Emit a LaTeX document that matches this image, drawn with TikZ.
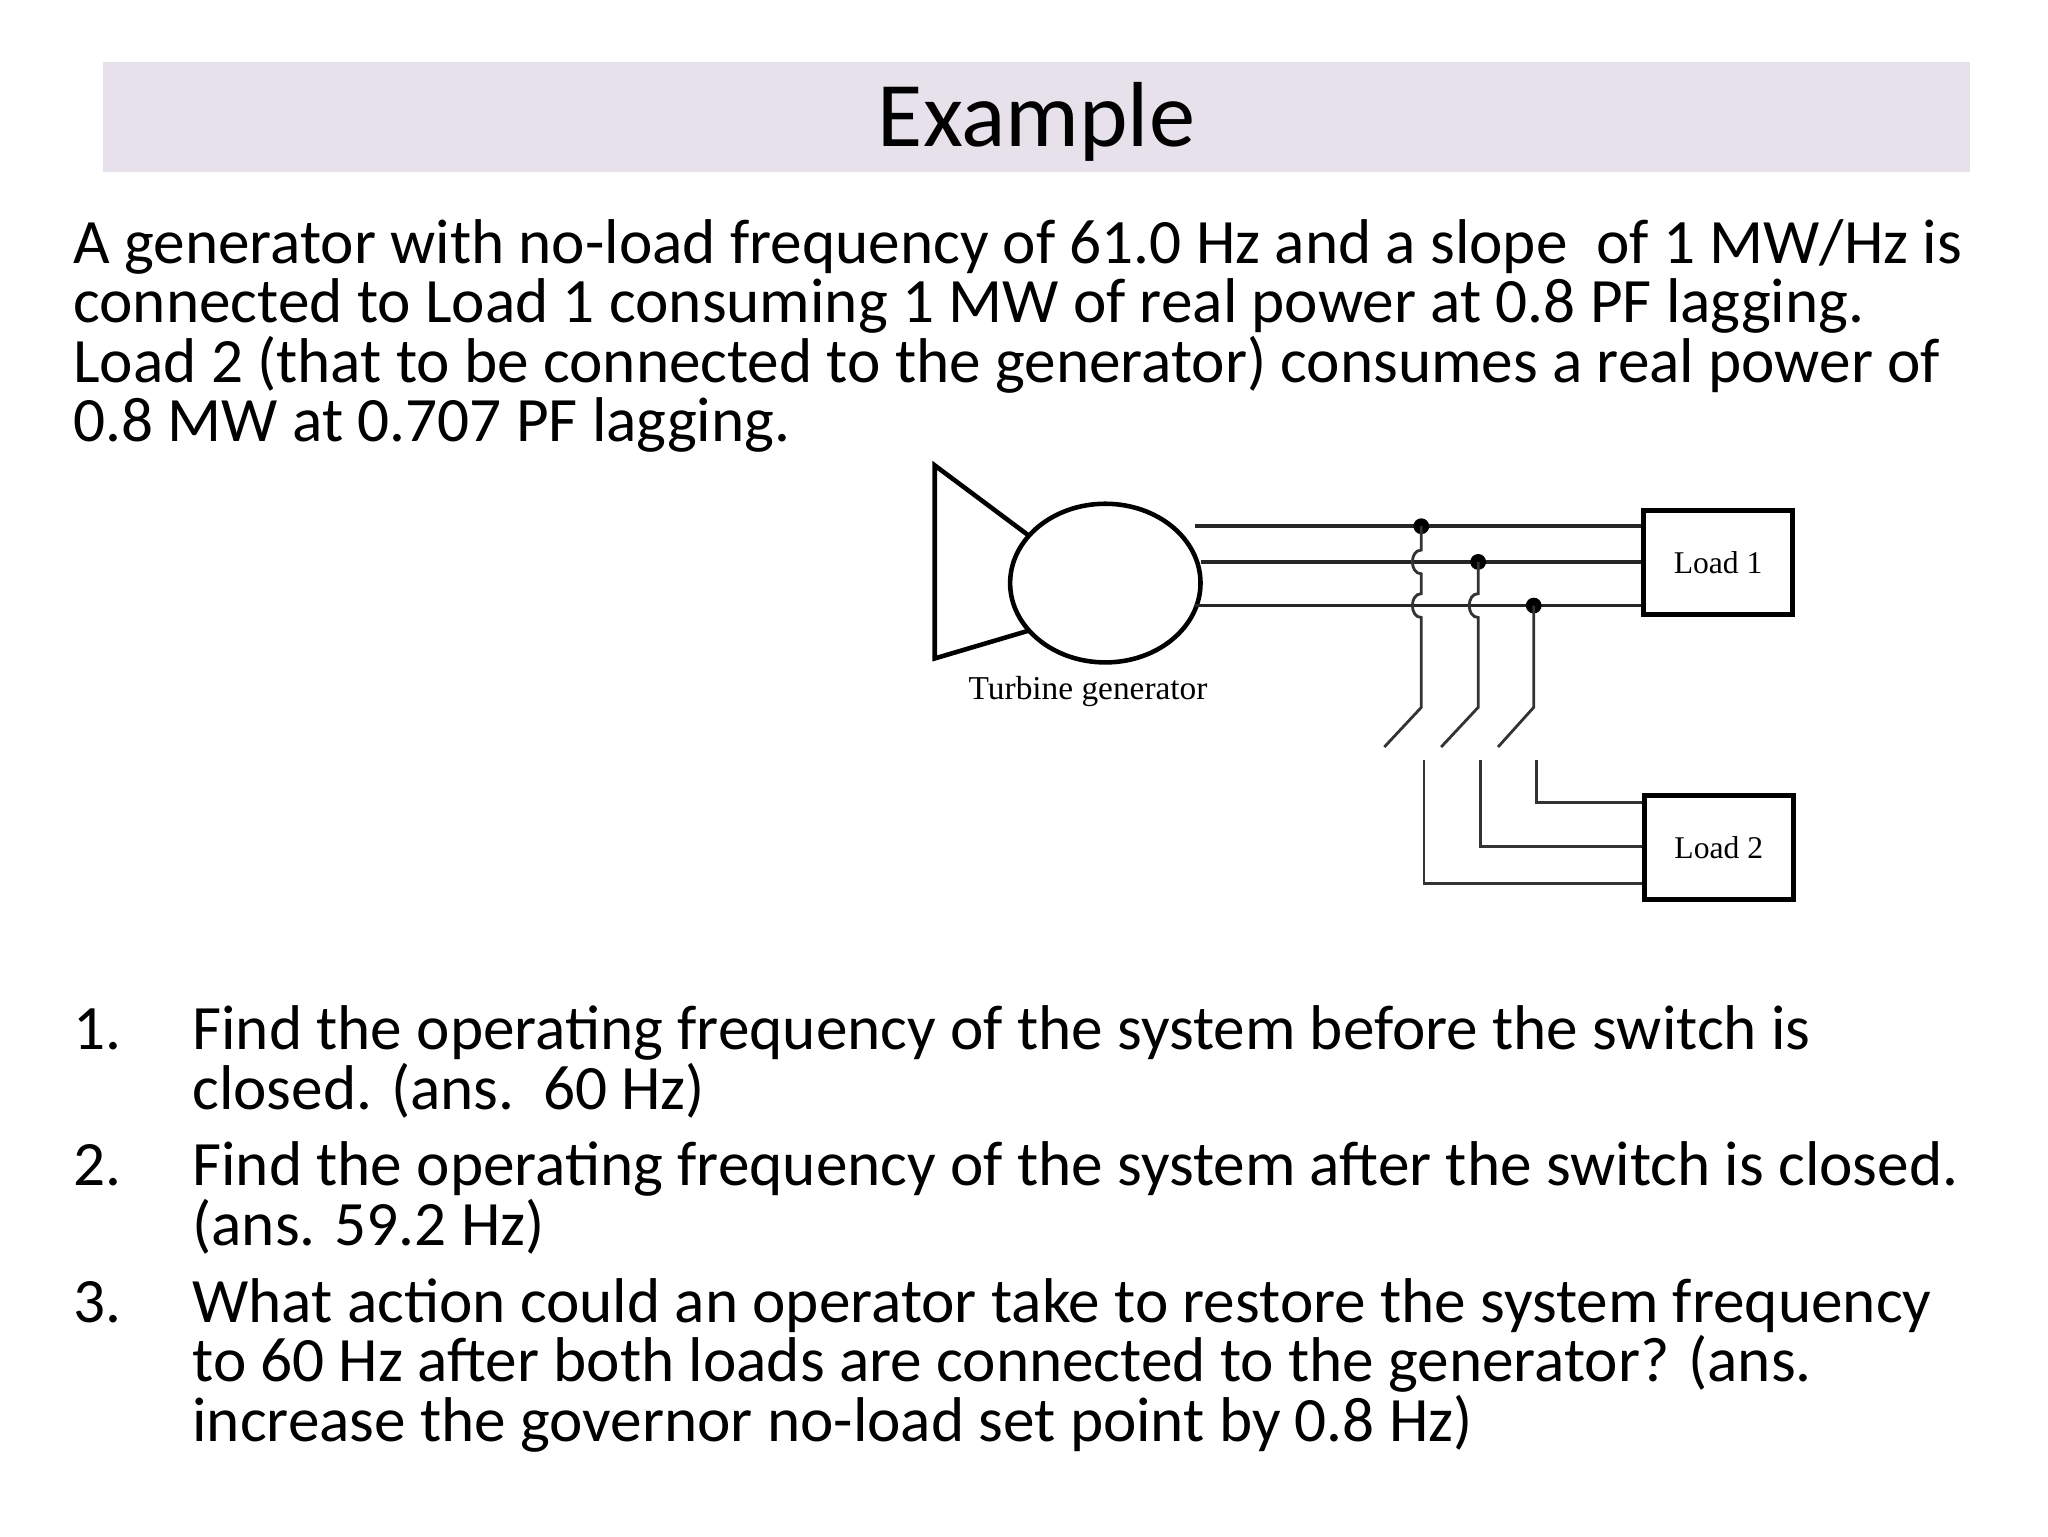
\documentclass[tikz,border=0pt]{standalone}
\usepackage{fontspec}
\setmainfont{Carlito}
\newfontfamily\tms{Liberation Serif}
\begin{document}
\begin{tikzpicture}[x=0.013222cm,y=-0.013222cm,
  body/.style={anchor=base west,inner sep=0pt,font=\fontsize{18}{20}\selectfont},
  wire/.style={line width=1.1pt,black!85},
  thin/.style={line width=0.8pt,black!80},
  box/.style={draw,line width=1.4pt,minimum width=113*0.013222cm,minimum height=79*0.013222cm,font=\tms\fontsize{9}{10}\selectfont},
  dot/.style={circle,fill=black,inner sep=0pt,minimum size=4.5pt}]
\fill[white] (0,0) rectangle (1549,1162);
\useasboundingbox (0,0) rectangle (1549,1162);
\fill[fill={rgb,255:red,230;green,225;blue,234}] (78,47) rectangle (1490,130);
\node[inner sep=0pt,font=\fontsize{26.3}{28}\selectfont,anchor=base] (title) at (784,111) {Example};
\node[body] (l1) at (55,199) {A generator with no-load frequency of 61.0 Hz and a slope\ \ of 1 MW/Hz is};
\node[body] (l2) at (55,244) {connected to Load 1 consuming 1 MW of real power at 0.8 PF lagging.};
\node[body] (l3) at (55,289) {Load 2 (that to be connected to the generator) consumes a real power of};
\node[body] (l4) at (55,334) {0.8 MW at 0.707 PF lagging.};
\node[body] (n1) at (55,794) {1.};
\node[body] (q1a) at (145,794) {Find the operating frequency of the system before the switch is};
\node[body] (q1b) at (145,839) {closed. (ans.\ \ 60 Hz)};
\node[body] (n2) at (55,897) {2.};
\node[body] (q2a) at (145,897) {Find the operating frequency of the system after the switch is closed.};
\node[body] (q2b) at (145,942) {(ans. 59.2 Hz)};
\node[body] (n3) at (55,1000) {3.};
\node[body] (q3a) at (145,1000) {What action could an operator take to restore the system frequency};
\node[body] (q3b) at (145,1045) {to 60 Hz after both loads are connected to the generator? (ans.};
\node[body] (q3c) at (145,1090) {increase the governor no-load set point by 0.8 Hz)};
% diagram
\draw[line width=1.3pt] (778,405) -- (707,352) -- (707,498) -- (778,477);
\draw[line width=1.3pt] (836,441) ellipse [x radius=72, y radius=60];
\node[box] (L1) at (1299.5,425.5) {Load 1};
\node[box] (L2) at (1300,641) {Load 2};
\draw[wire] (904,398) -- (L1.west |- 0,398);
\draw[wire] (908,425) -- (L1.west |- 0,425);
\draw[wire] (904,458) -- (L1.west |- 0,458);
\node[dot] (d1) at (1075,398) {};
\node[dot] (d2) at (1118,425) {};
\node[dot] (d3) at (1160,458) {};
\draw[thin] (d1.center) -- (1075,416) .. controls (1066,416) and (1066,434) .. (1075,434) -- (1075,449) .. controls (1066,449) and (1066,467) .. (1075,467) -- (1075,535) -- (1047,565);
\draw[thin] (d2.center) -- (1118,449) .. controls (1109,449) and (1109,467) .. (1118,467) -- (1118,535) -- (1090,565);
\draw[thin] (d3.center) -- (1160,535) -- (1133,565);
\draw[thin] (1077,575) -- (1077,668) -- (L2.west |- 0,668);
\draw[thin] (1120,575) -- (1120,640) -- (L2.west |- 0,640);
\draw[thin] (1162,575) -- (1162,607) -- (L2.west |- 0,607);
\node[font=\tms\fontsize{9.5}{11}\selectfont,inner sep=0pt] (tg) at (823,523) {Turbine generator};
\end{tikzpicture}
\end{document}
